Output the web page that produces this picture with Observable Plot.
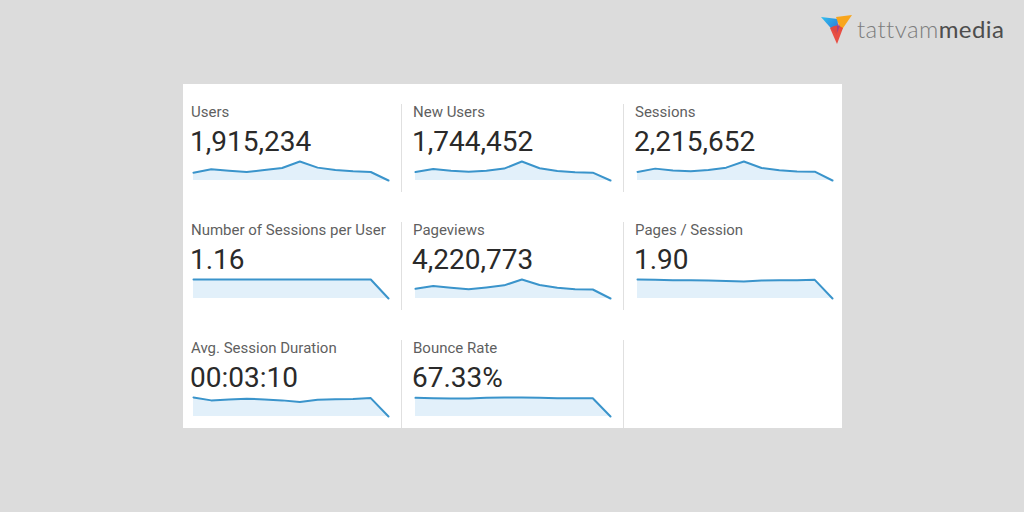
<!DOCTYPE html>
<html>
<head>
<meta charset="utf-8">
<script src="https://cdn.jsdelivr.net/npm/d3@7"></script>
<script src="https://cdn.jsdelivr.net/npm/@observablehq/plot@0.6"></script>
<style>
  html, body { margin: 0; padding: 0; }
  body {
    width: 1024px; height: 512px; position: relative; overflow: hidden;
    background: #dcdcdc; font-family: Roboto, "Noto Sans", sans-serif;
  }
  #panel { position: absolute; left: 183px; top: 84px; width: 659px; height: 344px; background: #ffffff; }
  .divider { position: absolute; width: 1px; background: #e0e0e0; }
  .label { position: absolute; font-size: 15px; line-height: 15px; color: #5f5f5f; white-space: nowrap; }
  .value { position: absolute; font-size: 28px; line-height: 28px; color: #2a2a2a; white-space: nowrap; }
  .spark { position: absolute; overflow: visible; }
  #brand { position: absolute; left: 857px; top: 17px; font-family: Lato, sans-serif; font-size: 24px; line-height: 24px; letter-spacing: 0.4px; white-space: nowrap; }
  #brand .a { color: #7d7d7d; font-weight: 300; }
  #brand .b { color: #4d4d4d; font-weight: 400; }
  #mark { position: absolute; left: 820px; top: 14px; }
</style>
</head>
<body>
<div id="panel"></div>
<svg id="mark" width="34" height="31" viewBox="0 0 34 31">
  <defs>
    <linearGradient id="wing" x1="0" y1="0" x2="1" y2="1">
      <stop offset="0" stop-color="#2fc0ee"/>
      <stop offset="1" stop-color="#2b6fd6"/>
    </linearGradient>
  </defs>
  <path d="M1,3 L18,5 L17,21 Z" fill="url(#wing)"/>
  <path d="M16,3 L32,1 L21,17 Z" fill="#f8a51c"/>
  <path d="M10,14 Q17,9 23,14 L17,30 Z" fill="#e8463a" opacity="0.95"/>
  <path d="M17,9 L20,12 L17,19 Z" fill="#8a3f9a" opacity="0.7"/>
</svg>
<div id="brand"><span class="a">tattvam</span><span class="b">media</span></div>

<script>
// Reporting periods shown along each sparkline
const periods = ["Jan", "Feb", "Mar", "Apr", "May", "Jun", "Jul", "Aug", "Sep", "Oct", "Nov", "Dec"];

// Metric names and their headline totals
const metricNames = [
  "Users", "New Users", "Sessions",
  "Number of Sessions per User", "Pageviews", "Pages / Session",
  "Avg. Session Duration", "Bounce Rate"
];
const metricTotals = [
  "1,915,234", "1,744,452", "2,215,652",
  "1.16", "4,220,773", "1.90",
  "00:03:10", "67.33%"
];

// Per-period series for each metric
const users = [157812, 166431, 162958, 159544, 164703, 169874, 186297, 170689, 164655, 161236, 159518, 137926];
const newUsers = [144653, 152317, 148046, 145488, 148112, 153164, 170982, 154027, 147193, 143811, 142936, 123402];
const sessions = [185214, 194876, 189642, 186931, 190758, 197683, 215947, 196812, 189935, 186204, 185873, 159771];
const sessionsPerUser = [1.17, 1.17, 1.17, 1.17, 1.17, 1.17, 1.17, 1.17, 1.17, 1.17, 1.17, 1.12];
const pageviews = [358712, 373894, 364427, 356815, 366281, 377703, 409968, 379552, 364389, 356774, 354906, 305488];
const pagesPerSession = [1.930, 1.926, 1.922, 1.922, 1.918, 1.914, 1.906, 1.918, 1.922, 1.922, 1.926, 1.710];
const avgSessionDuration = [198, 188, 191, 194, 191, 188, 182, 190, 192, 193, 196, 132]; // seconds
const bounceRate = [68.0, 67.8, 67.6, 67.6, 68.0, 68.2, 68.2, 68.0, 67.8, 67.8, 67.8, 57.6];

const series = [users, newUsers, sessions, sessionsPerUser, pageviews, pagesPerSession, avgSessionDuration, bounceRate];

// Small area + line sparkline, scaled between the series' own min and max
function sparkline(values) {
  const data = values.map((v, i) => ({period: periods[i], v}));
  const lo = d3.min(values), hi = d3.max(values);
  return Plot.plot({
    width: 199, height: 23,
    marginLeft: 2, marginRight: 2, marginTop: 2, marginBottom: 2,
    x: {type: "point", domain: periods, padding: 0, round: false, axis: null},
    y: {domain: [lo, hi], axis: null},
    marks: [
      Plot.areaY(data, {x: "period", y1: lo, y2: "v", fill: "#e2f0fa"}),
      Plot.lineY(data, {x: "period", y: "v", stroke: "#3a94cb", strokeWidth: 2, strokeLinejoin: "round"})
    ]
  });
}

const colStep = 222, rowStep = 118;

// Card dividers (every row, between the three columns)
for (let r = 0; r < 3; r++) {
  for (let c = 1; c < 3; c++) {
    const d = document.createElement("div");
    d.className = "divider";
    d.style.left = (179 + c * colStep) + "px";
    d.style.top = (104 + r * rowStep) + "px";
    d.style.height = "88px";
    document.body.appendChild(d);
  }
}

// Metric cards
metricNames.forEach((name, i) => {
  const col = i % 3, row = Math.floor(i / 3);
  const x = 191 + col * colStep;
  const y0 = row * rowStep;

  const label = document.createElement("div");
  label.className = "label";
  label.textContent = name;
  label.style.left = x + "px";
  label.style.top = (105 + y0) + "px";
  document.body.appendChild(label);

  const value = document.createElement("div");
  value.className = "value";
  value.textContent = metricTotals[i];
  value.style.left = (x - 1) + "px";
  value.style.top = (128 + y0) + "px";
  document.body.appendChild(value);

  const svg = sparkline(series[i]);
  svg.classList.add("spark");
  svg.style.left = x + "px";
  svg.style.top = (159 + y0) + "px";
  document.body.appendChild(svg);
});
</script>
</body>
</html>
